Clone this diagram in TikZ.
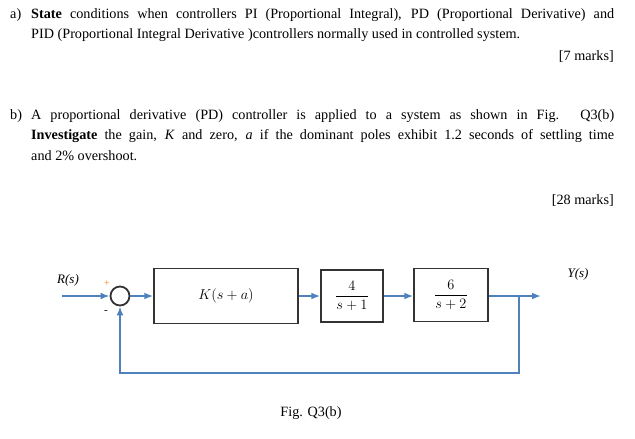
\documentclass[tikz,border=0pt]{standalone}
\usepackage{amsmath}
\usepackage{fontspec}
\setmainfont{Liberation Serif}
\usetikzlibrary{arrows.meta}
\definecolor{bl}{RGB}{79,129,189}
\begin{document}
\begin{tikzpicture}[x=1pt,y=-1pt,
  blk/.style={draw=black!80,line width=1.5pt,inner sep=0pt},
  ln/.style={draw=bl,line width=2pt},
  arr/.style={ln,-{Latex[length=9pt,width=7pt]}},
  txt/.style={font=\fontsize{14.2}{20.8}\selectfont,inner sep=0pt}]
\useasboundingbox (0,0) rectangle (635,439);
\node[txt,anchor=north west] (la) at (10,8) {a)};
\node[txt,anchor=north west,text width=583pt,align=justify] (ta) at (31,8) {\textbf{State} conditions when controllers PI (Proportional Integral), PD (Proportional Derivative) and\linebreak PID (Proportional Integral Derivative )controllers normally used in controlled system.};
\node[txt,anchor=east] (ma) at (614,57) {[7 marks]};
\node[txt,anchor=north west] (lb) at (10,109) {b)};
\node[txt,anchor=north west,text width=583pt,align=justify] (tb) at (31,109) {A proportional derivative (PD) controller is applied to a system as shown in Fig. Q3(b)\linebreak \textbf{Investigate} the gain, \textit{K} and zero, \textit{a} if the dominant poles exhibit 1.2 seconds of settling time\linebreak and 2\% overshoot.};
\node[txt,anchor=east] (mb) at (614,201) {[28 marks]};
% diagram
\node[font=\fontsize{13}{14}\selectfont\itshape,inner sep=0pt] (R) at (68,280) {R(s)};
\coordinate (in) at (62,296);
\node[circle,draw=black!80,line width=1.8pt,minimum size=19pt,inner sep=0pt] (sum) at (120,296) {};
\node[font=\fontsize{10}{10}\selectfont,text=orange,inner sep=0pt] (p) at (107,284) {+};
\node[font=\fontsize{11}{11}\selectfont,inner sep=0pt] (m) at (106,312) {-};
\node[blk,minimum width=144pt,minimum height=55pt] (K) at (226,296) {\Large$K(s+a)$};
\node[blk,minimum width=62pt,minimum height=52pt] (G1) at (352,296) {\Large$\dfrac{4}{s+1}$};
\node[blk,minimum width=74pt,minimum height=53pt] (G2) at (451,295) {\Large$\dfrac{6}{s+2}$};
\coordinate (br) at (519,296);
\coordinate (out) at (541,296);
\coordinate (fb1) at (519,373);
\coordinate (fb2) at (120,373);
\node[font=\fontsize{13}{14}\selectfont\itshape,inner sep=0pt] (Y) at (578,274) {Y(s)};
\draw[arr] (in) -- (sum.west);
\draw[arr] (sum.east) -- (K.west);
\draw[arr] (K.east) -- (G1.west);
\draw[arr] (G1.east) -- (G1.east -| G2.west);
\draw[ln] (G2.east |- br) -- (br);
\draw[arr] (br) -- (out);
\draw[arr] (br) -- (fb1) -- (fb2) -- (sum.south);
\node[txt] (fig) at (311,413) {Fig. Q3(b)};
\end{tikzpicture}
\end{document}
